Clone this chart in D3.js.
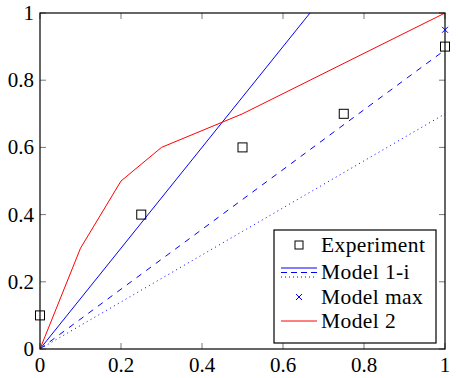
<!DOCTYPE html>
<html><head><meta charset="utf-8">
<script src="https://cdn.jsdelivr.net/npm/d3@7"></script>
<style>body{margin:0;background:#fff}svg{display:block}</style>
</head><body><svg id="c" width="458" height="378"></svg>
<script>
const xTicks = [0, 0.2, 0.4, 0.6, 0.8, 1];
const yTicks = [0, 0.2, 0.4, 0.6, 0.8, 1];
const expX = [0, 0.25, 0.5, 0.75, 1];
const expY = [0.1, 0.4, 0.6, 0.7, 0.9];
const model1X = [0, 1];
const model1Solid = [0, 1.5];
const model1Dashed = [0, 0.89];
const model1Dotted = [0, 0.7];
const maxX = [1];
const maxY = [0.95];
const model2X = [0, 0.1, 0.2, 0.3, 0.5, 1];
const model2Y = [0, 0.3, 0.5, 0.6, 0.7, 1];
const legendLabels = ["Experiment", "Model 1-i", "Model max", "Model 2"];

const svg = d3.select("#c");
const ff = "Liberation Serif";
const L = 40, R = 445, T = 13, B = 349;
const x = d3.scaleLinear().domain([0, 1]).range([L, R]);
const y = d3.scaleLinear().domain([0, 1]).range([B, T]);

svg.append("defs").append("clipPath").attr("id", "clip")
  .append("rect").attr("x", L).attr("y", T).attr("width", R - L).attr("height", B - T);

const plot = svg.append("g").attr("clip-path", "url(#clip)");
const line = d3.line().x(d => x(d[0])).y(d => y(d[1]));
const zip = (a, b) => a.map((v, i) => [v, b[i]]);

plot.append("path").attr("d", line(zip(model1X, model1Solid))).attr("fill", "none").attr("stroke", "#0000ff").attr("stroke-width", 1);
plot.append("path").attr("d", line(zip(model1X, model1Dashed))).attr("fill", "none").attr("stroke", "#0000ff").attr("stroke-width", 1).attr("stroke-dasharray", "6,6");
plot.append("path").attr("d", line(zip(model1X, model1Dotted))).attr("fill", "none").attr("stroke", "#0000ff").attr("stroke-width", 1).attr("stroke-dasharray", "1,3.5");
plot.append("path").attr("d", line(zip(model2X, model2Y))).attr("fill", "none").attr("stroke", "#ff0000").attr("stroke-width", 1);

// ticks (inward, both sides)
const tk = svg.append("g").attr("stroke", "#555").attr("stroke-width", 0.8);
xTicks.forEach(t => {
  tk.append("line").attr("x1", x(t)).attr("x2", x(t)).attr("y1", B).attr("y2", B - 6);
  tk.append("line").attr("x1", x(t)).attr("x2", x(t)).attr("y1", T).attr("y2", T + 6);
});
yTicks.forEach(t => {
  tk.append("line").attr("y1", y(t)).attr("y2", y(t)).attr("x1", L).attr("x2", L + 6);
  tk.append("line").attr("y1", y(t)).attr("y2", y(t)).attr("x1", R).attr("x2", R - 6);
});

// box
svg.append("rect").attr("x", L).attr("y", T).attr("width", R - L).attr("height", B - T)
  .attr("fill", "none").attr("stroke", "#000").attr("stroke-width", 1.2);

// markers (not clipped)
const ms = 9;
svg.append("g").selectAll("rect").data(zip(expX, expY)).join("rect")
  .attr("x", d => x(d[0]) - ms / 2).attr("y", d => y(d[1]) - ms / 2)
  .attr("width", ms).attr("height", ms).attr("fill", "none").attr("stroke", "#000").attr("stroke-width", 1);
const cross = (g, cx, cy, s) => {
  g.append("line").attr("x1", cx - s).attr("y1", cy - s).attr("x2", cx + s).attr("y2", cy + s);
  g.append("line").attr("x1", cx - s).attr("y1", cy + s).attr("x2", cx + s).attr("y2", cy - s);
};
const mx = svg.append("g").attr("stroke", "#0000ff").attr("stroke-width", 1);
zip(maxX, maxY).forEach(d => cross(mx, x(d[0]), y(d[1]), 3));

// tick labels
const fs = 21;
svg.append("g").selectAll("text").data(xTicks).join("text")
  .attr("font-family", ff)
  .attr("x", d => x(d)).attr("y", 372).attr("text-anchor", "middle").attr("font-size", fs)
  .text(d => d3.format("~g")(d));
svg.append("g").selectAll("text").data(yTicks).join("text")
  .attr("font-family", ff)
  .attr("x", 34).attr("y", d => y(d)).attr("dy", "0.33em").attr("text-anchor", "end").attr("font-size", fs)
  .text(d => d3.format("~g")(d));

// legend
const lg = svg.append("g");
lg.append("rect").attr("x", 274).attr("y", 230).attr("width", 162).attr("height", 113)
  .attr("fill", "#fff").attr("stroke", "#000").attr("stroke-width", 1.2);
const rowsY = [245, 272, 297, 321];
lg.append("rect").attr("x", 299 - 4).attr("y", rowsY[0] - 4).attr("width", 8).attr("height", 8)
  .attr("fill", "none").attr("stroke", "#000").attr("stroke-width", 1);
lg.append("line").attr("x1", 281).attr("x2", 317).attr("y1", 268).attr("y2", 268).attr("stroke", "#0000ff");
lg.append("line").attr("x1", 281).attr("x2", 317).attr("y1", 272.5).attr("y2", 272.5).attr("stroke", "#0000ff").attr("stroke-dasharray", "6,4");
lg.append("line").attr("x1", 281).attr("x2", 317).attr("y1", 277).attr("y2", 277).attr("stroke", "#0000ff").attr("stroke-dasharray", "1,3");
const lmx = lg.append("g").attr("stroke", "#0000ff").attr("stroke-width", 1);
cross(lmx, 299, rowsY[2], 3);
lg.append("line").attr("x1", 281).attr("x2", 317).attr("y1", rowsY[3]).attr("y2", rowsY[3]).attr("stroke", "#ff0000");
lg.selectAll("text.l").data(legendLabels).join("text").attr("class", "l")
  .attr("font-family", ff)
  .attr("x", 321).attr("y", (d, i) => rowsY[i]).attr("dy", "0.33em").attr("font-size", 21.5)
  .attr("letter-spacing", 0.4).text(d => d);
</script></body></html>
